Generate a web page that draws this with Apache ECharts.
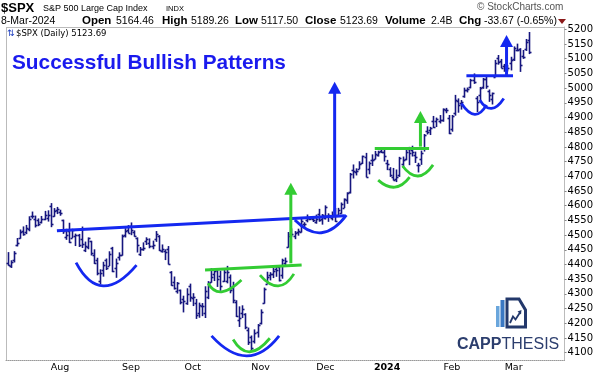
<!DOCTYPE html>
<html><head><meta charset="utf-8">
<script src="https://cdn.jsdelivr.net/npm/echarts@6/dist/echarts.min.js"></script>
<style>html,body{margin:0;padding:0;background:#fff}#c{width:596px;height:373px}</style>
</head><body><div id="c"></div>
<script>
// ---------- DATA ----------
const dates = [
'2023-07-07','2023-07-10','2023-07-11','2023-07-12','2023-07-13','2023-07-14','2023-07-17','2023-07-18','2023-07-19','2023-07-20','2023-07-21','2023-07-24','2023-07-25','2023-07-26','2023-07-27','2023-07-28','2023-07-31',
'2023-08-01','2023-08-02','2023-08-03','2023-08-04','2023-08-07','2023-08-08','2023-08-09','2023-08-10','2023-08-11','2023-08-14','2023-08-15','2023-08-16','2023-08-17','2023-08-18','2023-08-21','2023-08-22','2023-08-23','2023-08-24','2023-08-25','2023-08-28','2023-08-29','2023-08-30','2023-08-31',
'2023-09-01','2023-09-05','2023-09-06','2023-09-07','2023-09-08','2023-09-11','2023-09-12','2023-09-13','2023-09-14','2023-09-15','2023-09-18','2023-09-19','2023-09-20','2023-09-21','2023-09-22','2023-09-25','2023-09-26','2023-09-27','2023-09-28','2023-09-29',
'2023-10-02','2023-10-03','2023-10-04','2023-10-05','2023-10-06','2023-10-09','2023-10-10','2023-10-11','2023-10-12','2023-10-13','2023-10-16','2023-10-17','2023-10-18','2023-10-19','2023-10-20','2023-10-23','2023-10-24','2023-10-25','2023-10-26','2023-10-27','2023-10-30','2023-10-31',
'2023-11-01','2023-11-02','2023-11-03','2023-11-06','2023-11-07','2023-11-08','2023-11-09','2023-11-10','2023-11-13','2023-11-14','2023-11-15','2023-11-16','2023-11-17','2023-11-20','2023-11-21','2023-11-22','2023-11-24','2023-11-27','2023-11-28','2023-11-29','2023-11-30',
'2023-12-01','2023-12-04','2023-12-05','2023-12-06','2023-12-07','2023-12-08','2023-12-11','2023-12-12','2023-12-13','2023-12-14','2023-12-15','2023-12-18','2023-12-19','2023-12-20','2023-12-21','2023-12-22','2023-12-26','2023-12-27','2023-12-28','2023-12-29',
'2024-01-02','2024-01-03','2024-01-04','2024-01-05','2024-01-08','2024-01-09','2024-01-10','2024-01-11','2024-01-12','2024-01-16','2024-01-17','2024-01-18','2024-01-19','2024-01-22','2024-01-23','2024-01-24','2024-01-25','2024-01-26','2024-01-29','2024-01-30','2024-01-31',
'2024-02-01','2024-02-02','2024-02-05','2024-02-06','2024-02-07','2024-02-08','2024-02-09','2024-02-12','2024-02-13','2024-02-14','2024-02-15','2024-02-16','2024-02-20','2024-02-21','2024-02-22','2024-02-23','2024-02-26','2024-02-27','2024-02-28','2024-02-29',
'2024-03-01','2024-03-04','2024-03-05','2024-03-06','2024-03-07','2024-03-08'
];
const opens = [
4404.5,4394.2,4415.6,4467.7,4491.5,4514.6,4508.9,4521.8,4563.9,4554.4,4550.2,4543.4,4555.2,4558.9,4598.3,4565.8,4584.8,
4578.8,4550.9,4494.3,4513.9,4491.6,4498.0,4501.6,4487.2,4450.7,4458.1,4478.9,4433.8,4416.3,4344.9,4380.3,4415.3,4396.4,4455.2,4389.4,4426.0,4432.8,4500.3,4517.0,
4530.6,4510.1,4490.4,4434.6,4451.3,4481.0,4473.3,4462.7,4487.8,4498.0,4445.1,4445.4,4452.8,4374.4,4341.7,4310.6,4312.9,4282.6,4269.7,4328.2,
4284.5,4269.8,4233.8,4259.3,4234.8,4289.0,4339.8,4366.6,4380.9,4360.5,4342.4,4345.2,4357.4,4321.4,4273.9,4210.4,4235.8,4232.4,4176.0,4152.9,4139.4,4171.3,
4201.3,4268.3,4334.2,4364.3,4366.2,4384.4,4391.4,4364.1,4406.7,4459.0,4505.3,4497.1,4509.6,4511.7,4538.8,4553.0,4555.8,4554.9,4545.6,4571.8,4554.9,
4559.4,4564.4,4557.3,4586.2,4568.8,4576.2,4593.4,4618.3,4646.2,4721.0,4714.2,4725.6,4743.7,4764.7,4724.3,4753.9,4758.9,4773.5,4786.4,4782.9,
4745.2,4725.1,4697.4,4690.6,4703.7,4741.9,4759.9,4792.1,4791.2,4772.4,4739.1,4760.1,4796.3,4853.4,4856.8,4888.6,4886.7,4888.9,4893.0,4925.9,4899.2,
4861.1,4916.1,4957.2,4950.2,4973.1,4995.2,5004.2,5026.8,4967.9,4976.4,5003.1,5031.1,4989.3,4963.0,5038.8,5100.9,5093.0,5074.6,5067.2,5085.4,
5098.5,5131.0,5132.4,5108.0,5132.4,5164.5
];
const highs = [
4440.4,4412.6,4443.6,4488.3,4517.4,4527.8,4532.9,4562.3,4578.4,4564.7,4555.0,4563.4,4580.6,4582.5,4607.1,4590.2,4594.2,
4584.6,4550.9,4519.8,4540.3,4519.8,4503.3,4502.4,4527.4,4476.2,4490.3,4478.9,4449.9,4421.2,4381.8,4407.6,4418.6,4443.2,4458.3,4418.5,4439.6,4500.1,4521.7,4532.3,
4541.3,4514.3,4490.4,4457.8,4473.5,4490.8,4487.1,4479.4,4512.0,4498.0,4466.4,4449.9,4461.0,4375.7,4357.4,4338.5,4313.0,4292.1,4317.3,4333.2,
4300.6,4281.2,4268.5,4267.1,4324.1,4341.7,4385.5,4378.6,4385.9,4377.1,4383.3,4393.6,4364.2,4339.5,4276.6,4255.8,4259.4,4232.4,4183.6,4156.7,4177.5,4195.6,
4245.6,4319.7,4373.6,4372.2,4386.3,4391.2,4393.4,4418.0,4421.8,4508.7,4521.2,4512.0,4520.1,4557.1,4542.1,4568.4,4560.3,4560.7,4568.1,4587.6,4569.9,
4599.4,4572.4,4578.6,4590.7,4590.9,4609.2,4623.0,4643.9,4709.7,4738.6,4725.5,4749.5,4768.7,4778.0,4748.7,4772.9,4784.7,4785.4,4793.3,4788.4,
4754.3,4729.3,4726.8,4721.5,4764.5,4765.5,4790.8,4798.5,4802.4,4782.3,4744.2,4785.8,4842.1,4868.4,4866.5,4903.7,4898.1,4906.7,4929.3,4931.1,4906.8,
4907.0,4975.3,4963.4,4957.8,4999.9,5000.4,5030.1,5048.4,4971.3,5002.5,5032.7,5038.7,4993.7,4983.2,5094.4,5111.1,5097.7,5080.7,5077.4,5105.0,
5140.3,5149.7,5134.3,5128.0,5165.6,5189.3
];
const lows = [
4397.4,4389.9,4408.5,4463.2,4489.4,4499.6,4504.9,4514.6,4557.5,4527.6,4532.0,4541.3,4552.4,4547.6,4528.6,4564.0,4573.1,
4567.5,4505.8,4485.5,4474.6,4491.2,4464.4,4461.3,4457.9,4443.9,4453.4,4432.2,4403.6,4364.8,4335.3,4360.3,4382.8,4396.4,4375.6,4356.3,4415.0,4431.7,4493.6,4507.4,
4501.4,4496.0,4442.4,4430.5,4448.4,4467.9,4456.8,4453.5,4478.7,4447.2,4442.1,4416.6,4401.4,4329.2,4316.5,4302.7,4266.0,4238.6,4264.4,4274.9,
4260.2,4216.5,4220.5,4225.9,4219.6,4283.8,4339.6,4345.3,4325.4,4312.0,4342.4,4337.5,4303.8,4269.7,4223.0,4189.2,4219.4,4181.4,4127.9,4103.8,4132.9,4153.1,
4197.7,4268.3,4334.2,4347.5,4355.4,4359.8,4343.9,4353.3,4393.8,4459.0,4495.3,4487.8,4499.7,4510.4,4525.5,4545.1,4552.8,4546.3,4540.5,4547.2,4537.2,
4554.7,4546.7,4551.7,4546.5,4565.2,4574.1,4593.4,4608.1,4643.2,4694.3,4704.7,4725.6,4743.7,4697.8,4708.4,4736.8,4758.9,4768.9,4781.0,4752.0,
4722.7,4699.7,4687.5,4682.1,4699.8,4730.4,4756.2,4739.6,4769.0,4747.1,4714.8,4740.6,4785.9,4844.1,4842.1,4865.9,4869.3,4881.5,4887.4,4916.3,4845.2,
4853.5,4908.0,4918.1,4928.7,4969.1,4987.1,5001.0,5016.2,4920.3,4956.8,4999.4,4999.5,4955.0,4946.0,5038.8,5081.5,5068.9,5057.3,5058.4,5061.9,
5094.2,5127.2,5056.9,5101.2,5128.2,5117.5
];
const closes = [
4399.0,4409.5,4439.3,4472.2,4510.0,4505.4,4522.8,4555.0,4565.7,4534.9,4536.3,4554.6,4567.5,4566.8,4537.4,4582.2,4589.0,
4576.7,4513.4,4501.9,4478.0,4518.4,4499.4,4467.7,4468.8,4464.1,4489.7,4437.9,4404.3,4370.4,4369.7,4399.8,4387.6,4436.0,4376.3,4405.7,4433.3,4497.6,4514.9,4507.7,
4515.8,4496.8,4465.5,4451.1,4457.5,4487.5,4461.9,4467.4,4505.1,4450.3,4453.5,4444.0,4402.2,4330.0,4320.1,4337.4,4273.5,4274.5,4299.7,4288.1,
4288.4,4229.5,4263.8,4258.2,4308.5,4335.7,4358.2,4377.0,4349.6,4327.8,4373.6,4373.2,4314.6,4278.0,4224.2,4217.0,4247.7,4186.8,4137.2,4117.4,4166.8,4193.8,
4237.9,4317.8,4358.3,4366.0,4378.4,4382.8,4347.4,4415.2,4411.6,4495.7,4502.9,4508.2,4514.0,4547.4,4538.2,4556.6,4559.3,4550.4,4554.9,4550.6,4567.8,
4594.6,4569.8,4567.2,4549.3,4585.6,4604.4,4622.4,4643.7,4707.1,4719.6,4719.2,4740.6,4768.4,4698.4,4746.8,4754.6,4774.8,4781.6,4783.4,4769.8,
4742.8,4704.8,4688.7,4697.2,4763.5,4756.5,4783.5,4780.2,4783.8,4766.0,4739.2,4780.9,4839.8,4850.4,4864.6,4868.6,4894.2,4891.0,4927.9,4925.0,4845.7,
4906.2,4958.6,4942.8,4954.2,4995.1,4997.9,5026.6,5021.8,4953.2,5000.6,5029.7,5005.6,4975.5,4981.8,5087.0,5088.8,5069.5,5078.2,5069.8,5096.3,
5137.1,5131.0,5078.7,5104.8,5157.4,5123.7
];
const xTickDates  = ['2023-08-01','2023-09-01','2023-10-02','2023-11-01','2023-12-01','2024-01-02','2024-02-01','2024-03-01'];
const xTickLabels = ['Aug','Sep','Oct','Nov','Dec','2024','Feb','Mar'];
const yTickValues = [4100,4150,4200,4250,4300,4350,4400,4450,4500,4550,4600,4650,4700,4750,4800,4850,4900,4950,5000,5050,5100,5150,5200];
const emptySlots = ['e1','e2','e3','e4','e5','e6','e7','e8','e9','e10','e11'];

// annotation geometry in data units: [index, price, ...]
const blueLines   = [[16.0,4515,109.3,4566],[148.7,5042,163.8,5042]];
const greenLines  = [[64.0,4381,95.3,4398],[119.0,4795,136.6,4795]];
const blueArcs    = [[22.2,4406,31.0,4327,41.8,4398],[66.1,4157,77.5,4089,88.0,4157],[93.1,4551,101.7,4508,109.8,4568],[147.1,4948,151.4,4911,155.2,4943],[153.0,4960,156.8,4931,160.8,4965]];
const greenArcs   = [[73.1,4145,78.5,4103,85.0,4149],[65.0,4336,69.4,4307,75.8,4347],[81.8,4364,87.7,4327,92.8,4368],[120.1,4687,125.5,4663,130.3,4697],[128.0,4735,133.0,4701,137.9,4739]];
const blueArrows  = [[106.0,4568,5022],[161.7,5045,5181]];
const greenArrows = [[91.8,4404,4678],[133.8,4801,4922]];

// ---------- CHART ----------
const BAR = '#16167e', BLUE = '#1428f0', GREEN = '#33cc33';
const chart = echarts.init(document.getElementById('c'), null, {renderer:'canvas'});
const ohlc = dates.map((d,i)=>[i, opens[i], highs[i], lows[i], closes[i]]);
const tickIdx = new Set(xTickDates.map(d=>dates.indexOf(d)));
const FF = '"DejaVu Sans", Verdana, sans-serif';

chart.setOption({
  animation:false,
  grid:{left:6, right:31, top:27, bottom:13, show:false},
  xAxis:{
    type:'category', data: dates.concat(emptySlots), boundaryGap:true,
    axisLine:{show:true, lineStyle:{color:'#999', type:'dotted', width:1}},
    axisTick:{show:false}, splitLine:{show:false},
    axisLabel:{
      interval:(idx)=>tickIdx.has(idx), margin:3,
      formatter:(v)=>{ const k = xTickDates.indexOf(v); if(k<0) return ''; const t=xTickLabels[k]; return /^\d+$/.test(t)?'{b|'+t+'}':t; },
      color:'#000', fontSize:9.5, fontFamily:FF,
      rich:{b:{fontWeight:'bold', fontSize:9.5, fontFamily:FF, color:'#000'}}
    }
  },
  yAxis:{
    type:'value', position:'right', min:4075, max:5208, scale:true,
    axisLine:{show:true, lineStyle:{color:'#bbb'}},
    axisTick:{show:true, length:2, lineStyle:{color:'#888'}, customValues:yTickValues},
    axisLabel:{customValues:yTickValues, formatter:(v)=>String(v), margin:3, color:'#000', fontSize:10, fontFamily:FF},
    splitLine:{show:false}
  },
  series:[{
    type:'custom', data:ohlc, encode:{x:0, y:[1,2,3,4]}, clip:true,
    renderItem:(params, api)=>{
      const i = api.value(0);
      const pO = api.coord([i, api.value(1)]);
      const pH = api.coord([i, api.value(2)]);
      const pL = api.coord([i, api.value(3)]);
      const pC = api.coord([i, api.value(4)]);
      const x = Math.round(pH[0]) + 0.5;
      const st = {stroke:BAR, lineWidth:1.6};
      const yo = Math.round(pO[1])+0.5, yc = Math.round(pC[1])+0.5;
      return {type:'group', children:[
        {type:'line', shape:{x1:x, y1:pH[1]-0.5, x2:x, y2:pL[1]+0.5}, style:st},
        {type:'line', shape:{x1:x-2, y1:yo, x2:x, y2:yo}, style:st},
        {type:'line', shape:{x1:x, y1:yc, x2:x+2, y2:yc}, style:st}
      ]};
    }
  }]
});

// ---------- ANNOTATIONS (positions via library scales) ----------
const refP = 4500;
const x0 = chart.convertToPixel({xAxisIndex:0, yAxisIndex:0}, [0, refP])[0];
const x100 = chart.convertToPixel({xAxisIndex:0, yAxisIndex:0}, [100, refP])[0];
const px = (i)=> x0 + i*(x100-x0)/100;
const py = (p)=> chart.convertToPixel({xAxisIndex:0, yAxisIndex:0}, [0, p])[1];

const g = [];
function addLine(a, color){ g.push({type:'line', z:50, shape:{x1:px(a[0]),y1:py(a[1]),x2:px(a[2]),y2:py(a[3])}, style:{stroke:color, lineWidth:3}}); }
function addArc(a, color){
  const sx=px(a[0]), sy=py(a[1]), bx=px(a[2]), by=py(a[3]), ex=px(a[4]), ey=py(a[5]);
  const cx = 2*bx - (sx+ex)/2, cy = 2*by - (sy+ey)/2;
  g.push({type:'bezierCurve', z:50, shape:{x1:sx,y1:sy,x2:ex,y2:ey,cpx1:cx,cpy1:cy}, style:{stroke:color, lineWidth:2.8, fill:null}});
}
function addArrow(a, color){
  const x=px(a[0]), yb=py(a[1]), yt=py(a[2]);
  const hl=12, hw=6.5;
  g.push({type:'line', z:50, shape:{x1:x,y1:yb,x2:x,y2:yt+hl-1}, style:{stroke:color, lineWidth:3}});
  g.push({type:'polygon', z:50, shape:{points:[[x-hw,yt+hl],[x+hw,yt+hl],[x,yt]]}, style:{fill:color}});
}
blueLines.forEach(a=>addLine(a,BLUE));
greenLines.forEach(a=>addLine(a,GREEN));
blueArcs.forEach(a=>addArc(a,BLUE));
greenArcs.forEach(a=>addArc(a,GREEN));
blueArrows.forEach(a=>addArrow(a,BLUE));
greenArrows.forEach(a=>addArrow(a,GREEN));

// frame (top and left borders)
g.push({type:'line', z:1, shape:{x1:6,y1:27.5,x2:565,y2:27.5}, style:{stroke:'#bbb', lineWidth:1}});
g.push({type:'line', z:1, shape:{x1:6.5,y1:27,x2:6.5,y2:360}, style:{stroke:'#bbb', lineWidth:1}});

// header texts
const AR = '"Liberation Sans", Arial, sans-serif';
function txt(t, x, y, font, fill){ g.push({type:'text', z:60, style:{text:t, x:x, y:y, font:font, fill:fill||'#000', textVerticalAlign:'middle', verticalAlign:'middle'}}); }
txt('$SPX', 1, 8, 'bold 13px '+AR);
txt('S&P 500 Large Cap Index', 43, 8.5, '9px '+AR);
txt('INDX', 166, 8.5, '7.5px '+AR);
txt('\u00A9 StockCharts.com', 477, 7.5, '10px '+AR, '#555');
txt('8-Mar-2024', 1, 21, '10.5px '+AR);
txt('Open', 82, 21, 'bold 11.5px '+AR); txt('5164.46', 116, 21, '10.5px '+AR);
txt('High', 162, 21, 'bold 11.5px '+AR); txt('5189.26', 191, 21, '10.5px '+AR);
txt('Low', 235, 21, 'bold 11.5px '+AR); txt('5117.50', 261, 21, '10.5px '+AR);
txt('Close', 305, 21, 'bold 11.5px '+AR); txt('5123.69', 340, 21, '10.5px '+AR);
txt('Volume', 385, 21, 'bold 11.5px '+AR); txt('2.4B', 431, 21, '10.5px '+AR);
txt('Chg', 459, 21, 'bold 11.5px '+AR); txt('-33.67 (-0.65%)', 484, 21, '10.5px '+AR);
g.push({type:'polygon', z:60, shape:{points:[[558,19],[566,19],[562,24]]}, style:{fill:'#8b1a1a'}});
txt('\u21C5', 7, 34, '9px '+FF, '#2040c0');
txt('$SPX (Daily) 5123.69', 16, 34, '8.5px '+FF);
txt('Successful Bullish Patterns', 12, 63, 'bold 20.8px '+AR, '#1a1aee');

// CAPPTHESIS logo
g.push({type:'rect', z:55, shape:{x:496, y:306, width:3.5, height:21}, style:{fill:'#6aa6dc'}});
g.push({type:'rect', z:55, shape:{x:500.5, y:300, width:4, height:27}, style:{fill:'#3b78c2'}});
g.push({type:'polygon', z:55, shape:{points:[[507,299],[519,299],[525.5,310],[525.5,327],[507,327]]}, style:{fill:null, stroke:'#23386b', lineWidth:3}});
g.push({type:'polyline', z:55, shape:{points:[[510,323],[513,316.5],[515.5,319.5],[520,312.5]]}, style:{stroke:'#23386b', lineWidth:1.8, fill:null}});
g.push({type:'polygon', z:55, shape:{points:[[517.5,311.5],[521.5,310],[521,314.5]]}, style:{fill:'#23386b'}});
g.push({type:'text', z:55, style:{text:'{a|CAPP}{b|THESIS}', x:457, y:345, verticalAlign:'middle', textVerticalAlign:'middle',
  rich:{a:{font:'bold 16px '+AR, fill:'#2c3e6e', color:'#2c3e6e'}, b:{font:'16px '+AR, fill:'#2c3e6e', color:'#2c3e6e'}}}});

chart.setOption({graphic:{elements:g}});
</script>
</body></html>
